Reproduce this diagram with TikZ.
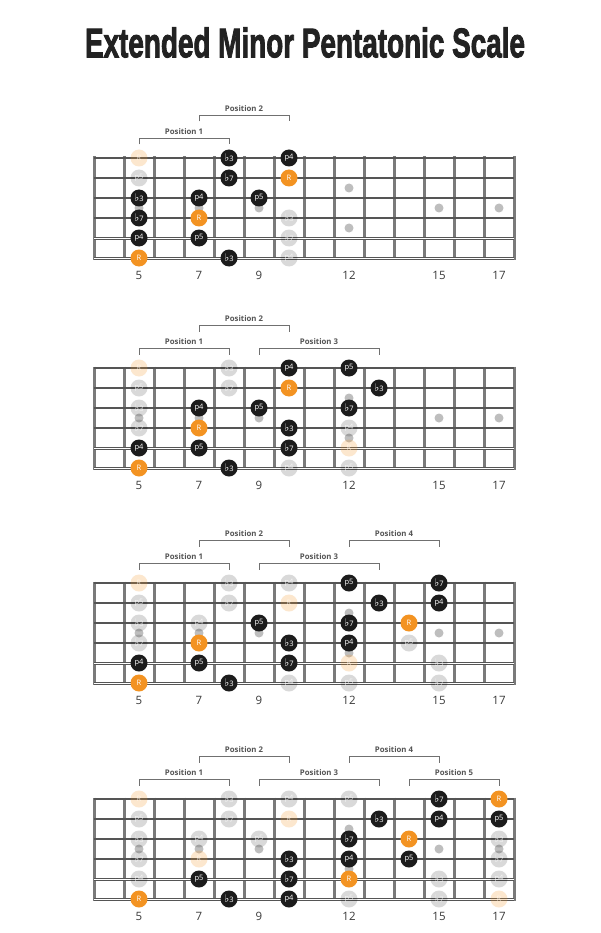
\documentclass[tikz,border=0pt]{standalone}
\usepackage{graphicx}
\usepackage{fontspec}
\setmainfont{Open Sans}
\newfontfamily\titlefont{Liberation Sans}[BoldFeatures={FakeBold=2.5}]
\newfontfamily\symfont{DejaVu Sans}
\newcommand\flt{{\symfont\fontsize{10.5}{9}\selectfont\char"266D}}
\definecolor{fretcol}{HTML}{7A7A7A}
\definecolor{strcol}{HTML}{555555}
\definecolor{inlay}{HTML}{BEBEBE}
\definecolor{noteblk}{HTML}{1C1C1C}
\definecolor{noteorg}{HTML}{F39322}
\definecolor{brk}{HTML}{707070}
\definecolor{lbl}{HTML}{555555}
\definecolor{numcol}{HTML}{3A3A3A}
\definecolor{titlecol}{HTML}{222222}
\tikzset{
  notebase/.style={circle, minimum size=17, inner sep=0pt, font=\fontsize{7.5}{8}\selectfont},
  nB/.style={notebase, fill=noteblk, text=white},
  nO/.style={notebase, fill=noteorg, text=white},
  nG/.style={notebase, fill=black, fill opacity=0.15, text=white, text opacity=0.75},
  nF/.style={notebase, fill=noteorg, fill opacity=0.22, text=white, text opacity=0.6},
  fretline/.style={line width=3pt, draw=fretcol},
  strline/.style={line width=1.1pt, draw=strcol},
  woundline/.style={line width=3pt, draw=strcol},
  woundcore/.style={line width=1pt, draw=white},
  inlaydot/.style={circle, fill=inlay, minimum size=9, inner sep=0pt},
  bracket/.style={line width=0.8pt, draw=brk},
  poslabel/.style={font=\bfseries\fontsize{7.8}{8}\selectfont, text=lbl},
  fretnum/.style={font=\fontsize{11.5}{12}\selectfont, text=numcol},
}
% #1 = y of top string, #2 = board id
\newcommand\board[2]{%
  \foreach \k in {0,...,14}
    \draw[fretline] ({94+30*\k},{#1-1.5}) -- ({94+30*\k},{#1+101.5});
  \foreach \s in {0,1,2,3}
    \draw[strline] (94,{#1+20*\s}) -- (514,{#1+20*\s});
  \foreach \s in {4,5} {
    \draw[woundline] (94,{#1+20*\s}) -- (514,{#1+20*\s});
    \draw[woundcore] (94,{#1+20*\s}) -- (514,{#1+20*\s});
  }
  \foreach \f in {5,7,9,15,17}
    \node[inlaydot] (in#2-\f) at ({30*\f-11},{#1+50}) {};
  \node[inlaydot] (in#2-12a) at (349,{#1+30}) {};
  \node[inlaydot] (in#2-12b) at (349,{#1+70}) {};
  \foreach \f in {5,7,9,12,15,17}
    \node[fretnum] (fn#2-\f) at ({30*\f-11},{#1+117}) {\f};
}
% #1 = y0, #2 = fret from, #3 = fret to, #4 = height above top string, #5 = text, #6 = name
\newcommand\posbr[6]{%
  \draw[bracket] ({30*#2-11},{#1-#4+6.5}) -- ({30*#2-11},{#1-#4})
     -- ({30*#3-11},{#1-#4}) -- ({30*#3-11},{#1-#4+6.5});
  \node[poslabel] (#6) at ({15*#2+15*#3-11},{#1-#4-6.5}) {#5};
}
% #1 = y0, #2 = id, #3 = list fret/string/type/label
\newcommand\notes[3]{%
  \foreach \f/\s/\t/\l in {#3}
    \node[\t] (n#2-\s-\f) at ({30*\f-11},{#1+20*(\s-1)}) {\l};
}
\begin{document}
\begin{tikzpicture}[x=1pt,y=-1pt]
\useasboundingbox (0,0) rectangle (600,933);
\fill[white] (0,0) rectangle (600,933);

\node[text=titlecol, inner sep=0pt] (title) at (305,42.5)
  {\resizebox{440pt}{30pt}{\titlefont\bfseries Extended Minor Pentatonic Scale}};

% ---------- Board 1 ----------
\board{158}{a}
\posbr{158}{5}{8}{20}{Position 1}{pa1}
\posbr{158}{7}{10}{43}{Position 2}{pa2}
\notes{158}{a}{5/1/nF/R, 8/1/nB/\flt3, 10/1/nB/p4,
  5/2/nG/p5, 8/2/nB/\flt7, 10/2/nO/R,
  5/3/nB/\flt3, 7/3/nB/p4, 9/3/nB/p5,
  5/4/nB/\flt7, 7/4/nO/R, 10/4/nG/\flt3,
  5/5/nB/p4, 7/5/nB/p5, 10/5/nG/\flt7,
  5/6/nO/R, 8/6/nB/\flt3, 10/6/nG/p4}

% ---------- Board 2 ----------
\board{368}{b}
\posbr{368}{5}{8}{20}{Position 1}{pb1}
\posbr{368}{7}{10}{43}{Position 2}{pb2}
\posbr{368}{9}{13}{20}{Position 3}{pb3}
\notes{368}{b}{5/1/nF/R, 8/1/nG/\flt3, 10/1/nB/p4, 12/1/nB/p5,
  5/2/nG/p5, 8/2/nG/\flt7, 10/2/nO/R, 13/2/nB/\flt3,
  5/3/nG/\flt3, 7/3/nB/p4, 9/3/nB/p5, 12/3/nB/\flt7,
  5/4/nG/\flt7, 7/4/nO/R, 10/4/nB/\flt3, 12/4/nG/p4,
  5/5/nB/p4, 7/5/nB/p5, 10/5/nB/\flt7, 12/5/nF/R,
  5/6/nO/R, 8/6/nB/\flt3, 10/6/nG/p4, 12/6/nG/p5}

% ---------- Board 3 ----------
\board{583}{c}
\posbr{583}{5}{8}{20}{Position 1}{pc1}
\posbr{583}{7}{10}{43}{Position 2}{pc2}
\posbr{583}{9}{13}{20}{Position 3}{pc3}
\posbr{583}{12}{15}{43}{Position 4}{pc4}
\notes{583}{c}{5/1/nF/R, 8/1/nG/\flt3, 10/1/nG/p4, 12/1/nB/p5, 15/1/nB/\flt7,
  5/2/nG/p5, 8/2/nG/\flt7, 10/2/nF/R, 13/2/nB/\flt3, 15/2/nB/p4,
  5/3/nG/\flt3, 7/3/nG/p4, 9/3/nB/p5, 12/3/nB/\flt7, 14/3/nO/R,
  5/4/nG/\flt7, 7/4/nO/R, 10/4/nB/\flt3, 12/4/nB/p4, 14/4/nG/p5,
  5/5/nB/p4, 7/5/nB/p5, 10/5/nB/\flt7, 12/5/nF/R, 15/5/nG/\flt3,
  5/6/nO/R, 8/6/nB/\flt3, 10/6/nG/p4, 12/6/nG/p5, 15/6/nG/\flt7}

% ---------- Board 4 ----------
\board{799}{d}
\posbr{799}{5}{8}{20}{Position 1}{pd1}
\posbr{799}{7}{10}{43}{Position 2}{pd2}
\posbr{799}{9}{13}{20}{Position 3}{pd3}
\posbr{799}{12}{15}{43}{Position 4}{pd4}
\posbr{799}{14}{17}{20}{Position 5}{pd5}
\notes{799}{d}{5/1/nF/R, 8/1/nG/\flt3, 10/1/nG/p4, 12/1/nG/p5, 15/1/nB/\flt7, 17/1/nO/R,
  5/2/nG/p5, 8/2/nG/\flt7, 10/2/nF/R, 13/2/nB/\flt3, 15/2/nB/p4, 17/2/nB/p5,
  5/3/nG/\flt3, 7/3/nG/p4, 9/3/nG/p5, 12/3/nB/\flt7, 14/3/nO/R, 17/3/nG/\flt3,
  5/4/nG/\flt7, 7/4/nF/R, 10/4/nB/\flt3, 12/4/nB/p4, 14/4/nB/p5, 17/4/nG/\flt7,
  5/5/nG/p4, 7/5/nB/p5, 10/5/nB/\flt7, 12/5/nO/R, 15/5/nG/\flt3, 17/5/nG/p4,
  5/6/nO/R, 8/6/nB/\flt3, 10/6/nB/p4, 12/6/nG/p5, 15/6/nG/\flt7, 17/6/nF/R}
\end{tikzpicture}
\end{document}
